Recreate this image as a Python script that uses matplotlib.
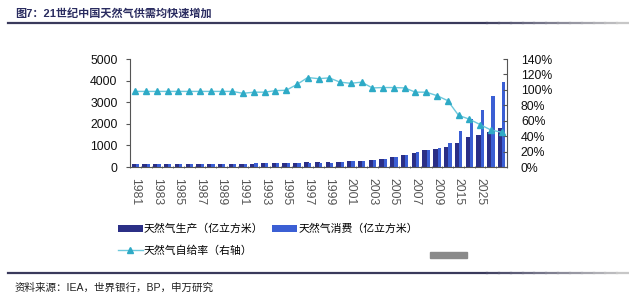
import matplotlib as mpl
mpl.use('Agg')

import matplotlib.pyplot as plt
import numpy as np
from matplotlib.lines import Line2D
from matplotlib.patches import Rectangle

plt.rcParams['font.family'] = ['Liberation Sans', 'Noto Sans CJK SC']

years = ['1981', '1982', '1983', '1984', '1985', '1986', '1987', '1988', '1989', '1990',
         '1991', '1992', '1993', '1994', '1995', '1996', '1997', '1998', '1999', '2000',
         '2001', '2002', '2003', '2004', '2005', '2006', '2007', '2008', '2009', '2010',
         '2015', '2020', '2025', '2030', '2035']
production = [130, 120, 120, 125, 130, 135, 140, 140, 150, 150,
              155, 160, 170, 175, 180, 200, 225, 230, 215, 250,
              280, 300, 340, 380, 480, 570, 665, 770, 820, 940,
              1120, 1370, 1480, 1630, 1790]
consumption = [133, 122, 122, 128, 133, 138, 143, 143, 153, 153,
               162, 165, 175, 177, 181, 187, 194, 201, 186, 227,
               258, 273, 332, 369, 466, 556, 686, 794, 886, 1093,
               1670, 2200, 2650, 3300, 3950]
ratio = [98, 98, 98, 98, 98, 98, 98, 98, 98, 98,
         95.5, 97, 97, 99, 99.5, 107, 116, 114.5, 115.5, 110,
         108.5, 110, 102.5, 103, 103, 102.5, 97, 97, 92.5, 86,
         67, 62, 55, 48, 45]
label_years = ['1981', '1983', '1985', '1987', '1989', '1991', '1993', '1995', '1997',
               '1999', '2001', '2003', '2005', '2007', '2009', '2015', '2025']

W, H = 629, 302
fig = plt.figure(figsize=(W / 100, H / 100), dpi=100)
ax = fig.add_axes([130 / W, 1 - 167 / H, 377 / W, 108 / H])

x = np.arange(len(years))
b1 = ax.bar(x - 0.12, production, width=0.45, color='#2b2f86', zorder=2,
            label='天然气生产（亿立方米）')
b2 = ax.bar(x + 0.2, consumption, width=0.3, color='#3b5fd4', zorder=3,
            label='天然气消费（亿立方米）')
ax.set_xlim(-0.5, len(years) - 0.5)
ax.set_ylim(0, 5000)
ax.set_yticks(range(0, 5001, 1000))
ax.tick_params(axis='y', direction='out', length=3, labelsize=8.8, pad=6,
               color='#555555', labelcolor='#111111')

ax.set_xticks([years.index(y) for y in label_years])
ax.set_xticklabels(label_years, rotation=-90, fontsize=8.8, color='#555555')
ax.set_xticks(np.arange(-0.5, len(years), 1), minor=True)
ax.tick_params(axis='x', which='major', length=0, pad=8)
ax.tick_params(axis='x', which='minor', length=2, direction='inout', color='#666666')
for s in ['top', 'right']:
    ax.spines[s].set_visible(False)
for s in ['left', 'bottom']:
    ax.spines[s].set_color('#555555')
    ax.spines[s].set_linewidth(0.8)

ax2 = ax.twinx()
ln, = ax2.plot(x, ratio, color='#6cc8dc', lw=1, marker='^', markersize=5,
               markerfacecolor='#2eaac6', markeredgecolor='#2eaac6',
               label='天然气自给率（右轴）')
ax2.set_ylim(0, 140)
ax2.set_yticks(range(0, 141, 20))
ax2.set_yticklabels([f'{v}%' for v in range(0, 141, 20)])
ax2.tick_params(axis='y', direction='in', length=3, labelsize=8.8, pad=10,
                color='#555555', labelcolor='#111111')
for s in ['top', 'left', 'bottom']:
    ax2.spines[s].set_visible(False)
ax2.spines['right'].set_color('#555555')
ax2.spines['right'].set_linewidth(0.8)

fig.legend(handles=[b1, ln, b2], ncol=2, loc='upper left',
           bbox_to_anchor=(118 / W, 1 - 224 / H), frameon=False,
           fontsize=7.8, handlelength=2.3, handleheight=0.6, handletextpad=0.1,
           columnspacing=0.8, labelspacing=1.0, borderpad=0, borderaxespad=0)

fig.text(15 / W, 1 - 13 / H, '图7：21世纪中国天然气供需均快速增加', fontsize=8.0,
         fontweight='bold', color='#2a2c60', va='center', ha='left')
fig.text(15 / W, 1 - 288 / H, '资料来源：IEA，世界银行，BP，申万研究', fontsize=7.6,
         color='#222222', va='center', ha='left')

# header / footer rules fading out to the right
for yy in [22.5, 272.5]:
    fig.add_artist(Line2D([8 / W, 487 / W], [1 - yy / H] * 2, color='#3a3a5c', lw=1.6))
    steps = 12
    for i in range(steps):
        c = np.array([0x3a, 0x3a, 0x5c]) / 255 * (1 - (i + 1) / steps) + np.array([0.78] * 3) * (i + 1) / steps
        x0 = 487 + (629 - 487) * i / steps
        x1 = 487 + (629 - 487) * (i + 1) / steps
        fig.add_artist(Line2D([x0 / W, x1 / W], [1 - yy / H] * 2, color=c, lw=1.6))

fig.add_artist(Rectangle((430 / W, 1 - 258 / H), 37 / W, 6 / H, color='#8a8a8a',
                         transform=fig.transFigure))

plt.savefig('out.png', dpi=100)
plt.close()
